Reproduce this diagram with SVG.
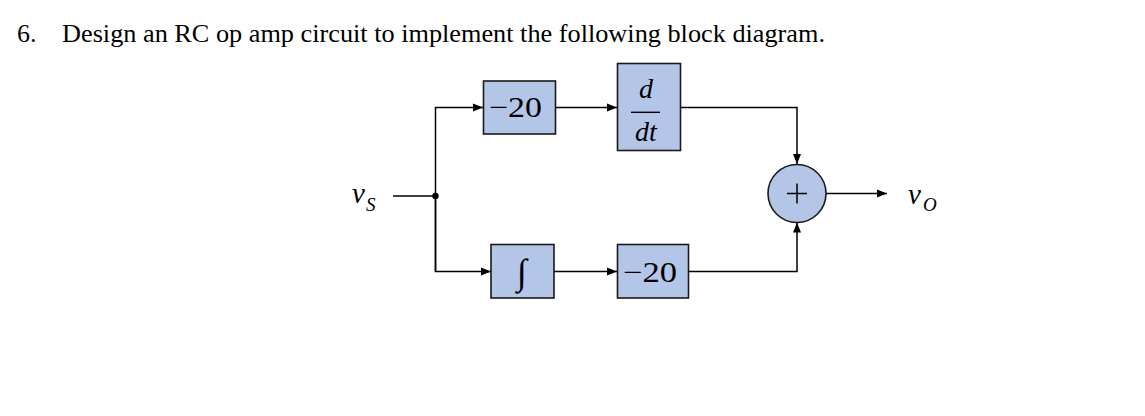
<svg xmlns="http://www.w3.org/2000/svg" width="1145" height="416" viewBox="0 0 1145 416">
<style>
.title{font-family:"Liberation Serif","Times New Roman",serif;font-size:26px;fill:#000}
.blk{fill:#b4c6e7;stroke:#1a1a1a;stroke-width:1.6}
.num{font-family:"Liberation Serif","Times New Roman",serif;font-size:29px;fill:#000}
.it{font-family:"Liberation Serif","Times New Roman",serif;font-style:italic;fill:#000}
.wire{fill:none;stroke:#000;stroke-width:1.5}
</style>
<defs>
<marker id="ah" viewBox="0 0 10 10" refX="10" refY="5" markerWidth="10" markerHeight="10" markerUnits="userSpaceOnUse" orient="auto">
<path d="M0,1 L10,5 L0,9 Z" fill="#000"/>
</marker>
</defs>
<rect width="1145" height="416" fill="#fff"/>
<text class="title" x="17" y="42">6.</text>
<text class="title" x="62" y="42" textLength="763" lengthAdjust="spacingAndGlyphs">Design an RC op amp circuit to implement the following block diagram.</text>

<g id="connectors">
<line class="wire" x1="393" y1="196" x2="435.5" y2="196"/>
<polyline class="wire" points="435.5,271.5 435.5,107.5 483,107.5" marker-end="url(#ah)"/>
<polyline class="wire" points="435.5,196 435.5,271.5 491,271.5" marker-end="url(#ah)"/>
<line class="wire" x1="556" y1="107.5" x2="617" y2="107.5" marker-end="url(#ah)"/>
<line class="wire" x1="554" y1="271.5" x2="617" y2="271.5" marker-end="url(#ah)"/>
<polyline class="wire" points="681,107.5 797,107.5 797,164" marker-end="url(#ah)"/>
<polyline class="wire" points="689,271.5 797,271.5 797,222.5" marker-end="url(#ah)"/>
<line class="wire" x1="826" y1="193.5" x2="887" y2="193.5" marker-end="url(#ah)"/>
<circle cx="435.5" cy="196" r="3.2" fill="#000"/>
</g>

<g id="vs">
<text class="it" x="352" y="203" font-size="29">v</text>
<text class="it" x="366" y="211" font-size="19">S</text>
</g>

<g id="gain1">
<rect class="blk" x="483.5" y="81" width="72" height="53"/>
<text class="num" x="489" y="117" textLength="53" lengthAdjust="spacingAndGlyphs">−20</text>
</g>

<g id="deriv">
<rect class="blk" x="617.5" y="63.5" width="63" height="87"/>
<text class="it" x="646" y="98" font-size="28" text-anchor="middle">d</text>
<line x1="631" y1="112.3" x2="660" y2="112.3" stroke="#000" stroke-width="1.4"/>
<text class="it" x="646" y="141" font-size="28" text-anchor="middle">dt</text>
</g>

<g id="integ">
<rect class="blk" x="491" y="244.5" width="63" height="53.5"/>
<text class="it" x="522" y="284" font-size="36" text-anchor="middle">∫</text>
</g>

<g id="gain2">
<rect class="blk" x="617.5" y="244.5" width="71" height="53.5"/>
<text class="num" x="623" y="282" textLength="54" lengthAdjust="spacingAndGlyphs">−20</text>
</g>

<g id="sum">
<circle class="blk" cx="797" cy="193.5" r="29"/>
<line x1="797" y1="183.5" x2="797" y2="203.5" stroke="#000" stroke-width="1.5"/>
<line x1="787" y1="193.5" x2="807" y2="193.5" stroke="#000" stroke-width="1.5"/>
</g>

<g id="vo">
<text class="it" x="908" y="204" font-size="29">v</text>
<text class="it" x="923" y="211" font-size="19">O</text>
</g>
</svg>
